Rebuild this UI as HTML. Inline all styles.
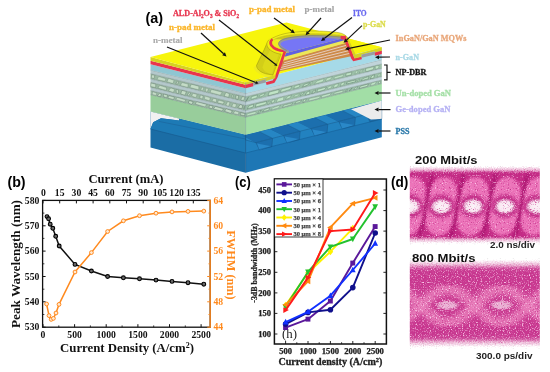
<!DOCTYPE html>
<html><head><meta charset="utf-8"><title>Figure</title>
<style>
html,body{margin:0;padding:0;background:#fff;}
body{width:550px;height:372px;overflow:hidden;}
svg{display:block;}
.serif{font-family:"Liberation Serif",serif;font-weight:bold;}
.sans{font-family:"Liberation Sans",sans-serif;font-weight:bold;}
</style></head><body>
<svg width="550" height="372" viewBox="0 0 550 372">
<rect width="550" height="372" fill="#fff"/>
<g id="fig-a">
<polygon points="150.5,111.4 245.6,134.8 245.6,172.7 150.5,147.6" fill="#1b6da5" />
<polygon points="150.5,111.4 179,118.4 179,120.6 161,118.2 153.2,122.2 150.5,128.8" fill="#f1f1f1" />
<polygon points="161,118.2 179,120.6 179,118.6 245.6,134.8 245.6,153 150.5,129 153.2,122.2" fill="#1d7ab5" />
<line x1="159" y1="121.4" x2="245.6" y2="139" stroke="#1a5e94" stroke-width="0.5" />
<line x1="150.5" y1="129" x2="245.6" y2="153" stroke="#15588c" stroke-width="0.6" />
<polygon points="245.6,134.8 381.8,100.5 381.8,137.2 245.6,172.7" fill="#1e77b5" />
<polygon points="245.6,134.8 381.8,100.5 381.8,119 245.6,153" fill="#2282c0" />
<polygon points="245.6,140 255.9,142.6 245.6,136.2 245.6,134.8" fill="#2686c4" stroke="#174f7c" stroke-width="0.4" stroke-linejoin="round"/>
<polygon points="255.9,142.6 272.6,138.3 258.9,131.5 242.1,135.7" fill="#1c6fae" />
<polygon points="255.9,142.6 272.6,138.3 271.9,146.6 259.5,150" fill="#1c6fae" stroke="#174f7c" stroke-width="0.4" stroke-linejoin="round"/>
<polygon points="257.1,143.6 271.3,146.2 259.5,150" fill="#2a88c8" />
<polygon points="272.6,138.3 283.5,135.5 269.8,128.7 258.9,131.5" fill="#2686c4" stroke="#174f7c" stroke-width="0.4" stroke-linejoin="round"/>
<polygon points="283.5,135.5 300.2,131.2 286.6,124.5 269.8,128.7" fill="#1c6fae" />
<polygon points="283.5,135.5 300.2,131.2 299.5,139.5 287.1,142.9" fill="#1c6fae" stroke="#174f7c" stroke-width="0.4" stroke-linejoin="round"/>
<polygon points="284.7,136.5 298.9,139.1 287.1,142.9" fill="#2a88c8" />
<polygon points="300.2,131.2 311.1,128.5 297.5,121.7 286.6,124.5" fill="#2686c4" stroke="#174f7c" stroke-width="0.4" stroke-linejoin="round"/>
<polygon points="311.1,128.5 327.8,124.2 314.4,117.5 297.5,121.7" fill="#1c6fae" />
<polygon points="311.1,128.5 327.8,124.2 327.1,132.5 314.7,135.9" fill="#1c6fae" stroke="#174f7c" stroke-width="0.4" stroke-linejoin="round"/>
<polygon points="312.3,129.5 326.5,132.1 314.7,135.9" fill="#2a88c8" />
<polygon points="327.8,124.2 338.7,121.5 325.3,114.7 314.4,117.5" fill="#2686c4" stroke="#174f7c" stroke-width="0.4" stroke-linejoin="round"/>
<polygon points="338.7,121.4 355.4,117.2 342.1,110.5 325.3,114.7" fill="#1c6fae" />
<polygon points="338.7,121.4 355.4,117.2 354.7,125.4 342.3,128.8" fill="#1c6fae" stroke="#174f7c" stroke-width="0.4" stroke-linejoin="round"/>
<polygon points="339.9,122.4 354.1,125 342.3,128.8" fill="#2a88c8" />
<polygon points="355.4,117.2 366.3,114.4 353,107.8 342.1,110.5" fill="#2686c4" stroke="#174f7c" stroke-width="0.4" stroke-linejoin="round"/>
<polygon points="366.3,114.4 383,110.1 369.8,103.5 353,107.8" fill="#1c6fae" />
<polygon points="366.3,114.4 381.8,110.4 381.8,118.7 369.9,121.8" fill="#1c6fae" stroke="#174f7c" stroke-width="0.4" stroke-linejoin="round"/>
<polygon points="351,109.2 381.8,100.5 381.8,119 371,119.6" fill="#ececec" />
<line x1="245.6" y1="153" x2="381.8" y2="119" stroke="#155a90" stroke-width="0.5" />
<polygon points="150.5,94.7 245.6,117.2 245.6,134.8 150.5,111.4" fill="#98cd9b" />
<polygon points="245.6,117.2 381.8,83.6 381.8,100.5 245.6,134.8" fill="#a2dea6" />
<polygon points="150.5,70 245.6,93.2 245.6,96.8 150.5,73.7" fill="#b4c8cb" />
<polygon points="245.6,93.2 381.8,59.6 381.8,64 245.6,96.8" fill="#c0d4d9" />
<polygon points="150.5,73.7 245.6,96.8 245.6,101.9 150.5,79" fill="#9ab8a2" />
<polygon points="245.6,96.8 381.8,64 381.8,68.4 245.6,101.9" fill="#9cc0a8" />
<polygon points="150.5,79 245.6,101.9 245.6,105.5 150.5,82.3" fill="#b4c8cb" />
<polygon points="245.6,101.9 381.8,68.4 381.8,72.3 245.6,105.5" fill="#c0d4d9" />
<polygon points="150.5,82.3 245.6,105.5 245.6,110.6 150.5,87.4" fill="#9ab8a2" />
<polygon points="245.6,105.5 381.8,72.3 381.8,76.7 245.6,110.6" fill="#9cc0a8" />
<polygon points="150.5,87.4 245.6,110.6 245.6,113.1 150.5,90.6" fill="#b4c8cb" />
<polygon points="245.6,110.6 381.8,76.7 381.8,80 245.6,113.1" fill="#c0d4d9" />
<polygon points="150.5,90.6 245.6,113.1 245.6,117.2 150.5,94.7" fill="#9ab8a2" />
<polygon points="245.6,113.1 381.8,80 381.8,83.6 245.6,117.2" fill="#9cc0a8" />
<line x1="150.5" y1="70" x2="245.6" y2="93.2" stroke="#5c7474" stroke-width="0.45" stroke-opacity="0.7"/>
<line x1="245.6" y1="93.2" x2="381.8" y2="59.6" stroke="#5c7474" stroke-width="0.45" stroke-opacity="0.7"/>
<line x1="150.5" y1="73.7" x2="245.6" y2="96.8" stroke="#5c7474" stroke-width="0.45" stroke-opacity="0.7"/>
<line x1="245.6" y1="96.8" x2="381.8" y2="64" stroke="#5c7474" stroke-width="0.45" stroke-opacity="0.7"/>
<line x1="150.5" y1="79" x2="245.6" y2="101.9" stroke="#5c7474" stroke-width="0.45" stroke-opacity="0.7"/>
<line x1="245.6" y1="101.9" x2="381.8" y2="68.4" stroke="#5c7474" stroke-width="0.45" stroke-opacity="0.7"/>
<line x1="150.5" y1="82.3" x2="245.6" y2="105.5" stroke="#5c7474" stroke-width="0.45" stroke-opacity="0.7"/>
<line x1="245.6" y1="105.5" x2="381.8" y2="72.3" stroke="#5c7474" stroke-width="0.45" stroke-opacity="0.7"/>
<line x1="150.5" y1="87.4" x2="245.6" y2="110.6" stroke="#5c7474" stroke-width="0.45" stroke-opacity="0.7"/>
<line x1="245.6" y1="110.6" x2="381.8" y2="76.7" stroke="#5c7474" stroke-width="0.45" stroke-opacity="0.7"/>
<line x1="150.5" y1="90.6" x2="245.6" y2="113.1" stroke="#5c7474" stroke-width="0.45" stroke-opacity="0.7"/>
<line x1="245.6" y1="113.1" x2="381.8" y2="80" stroke="#5c7474" stroke-width="0.45" stroke-opacity="0.7"/>
<line x1="150.5" y1="94.7" x2="245.6" y2="117.2" stroke="#5c7474" stroke-width="0.45" stroke-opacity="0.7"/>
<line x1="245.6" y1="117.2" x2="381.8" y2="83.6" stroke="#5c7474" stroke-width="0.45" stroke-opacity="0.7"/>
<polygon points="151.8,74.7 154.7,75.3 154,78.7 151.2,77.7" fill="#c4dcc6" stroke="#4f675f" stroke-width="0.5" stroke-opacity="0.68"/>
<polygon points="158.7,76.6 165.9,78.7 165,81.3 156.9,79.6" fill="#c4dcc6" stroke="#4f675f" stroke-width="0.5" stroke-opacity="0.52"/>
<polygon points="168.6,78.4 174.1,80.3 173,83.6 166.9,81.7" fill="#c4dcc6" stroke="#4f675f" stroke-width="0.5" stroke-opacity="0.52"/>
<polygon points="177.4,81.1 178.6,81.7 177.4,84.4 175.9,83.6" fill="#c4dcc6" stroke="#4f675f" stroke-width="0.5" stroke-opacity="0.72"/>
<polygon points="181.8,82.5 188.2,84.1 187.9,87.4 180.4,85.5" fill="#c4dcc6" stroke="#4f675f" stroke-width="0.5" stroke-opacity="0.57"/>
<polygon points="191.3,84.2 198.9,86.2 198.8,89.9 189.8,87.5" fill="#c4dcc6" stroke="#4f675f" stroke-width="0.5" stroke-opacity="0.61"/>
<polygon points="201.7,87 204,87.8 202.3,90.9 200.9,90.2" fill="#c4dcc6" stroke="#4f675f" stroke-width="0.5" stroke-opacity="0.51"/>
<polygon points="205.7,88.1 208.5,89.1 207,92.1 205.6,91.5" fill="#c4dcc6" stroke="#4f675f" stroke-width="0.5" stroke-opacity="0.47"/>
<polygon points="211.4,89.4 222.2,92.2 220.3,95.2 210.1,92.4" fill="#c4dcc6" stroke="#4f675f" stroke-width="0.5" stroke-opacity="0.49"/>
<polygon points="225.9,92.3 229.4,93.8 228.7,97.3 224.1,96.2" fill="#c4dcc6" stroke="#4f675f" stroke-width="0.5" stroke-opacity="0.64"/>
<polygon points="232.4,94.5 233.3,95.3 232.7,97.9 231.5,97.3" fill="#c4dcc6" stroke="#4f675f" stroke-width="0.5" stroke-opacity="0.57"/>
<polygon points="236.1,95.1 238.8,95.8 237.8,99.4 235.7,98.6" fill="#c4dcc6" stroke="#4f675f" stroke-width="0.5" stroke-opacity="0.77"/>
<polygon points="242.6,96.4 244.8,97.3 243.5,100.6 240.7,99.7" fill="#c4dcc6" stroke="#4f675f" stroke-width="0.5" stroke-opacity="0.59"/>
<polygon points="247.9,97.6 248.6,96.9 247,100.2 246.2,101.2" fill="#c0e4c6" stroke="#4f675f" stroke-width="0.5" stroke-opacity="0.76"/>
<polygon points="251.4,96.7 257.4,95 257,97.7 251,99.4" fill="#c0e4c6" stroke="#4f675f" stroke-width="0.5" stroke-opacity="0.69"/>
<polygon points="260.1,94.9 265.2,93.1 263.7,95.6 258.8,97.4" fill="#c0e4c6" stroke="#4f675f" stroke-width="0.5" stroke-opacity="0.62"/>
<polygon points="269.1,92.1 279.1,89.5 278.7,93 268,95.8" fill="#c0e4c6" stroke="#4f675f" stroke-width="0.5" stroke-opacity="0.78"/>
<polygon points="281.3,89.3 291.9,86.4 290.5,89.3 280.5,92.4" fill="#c0e4c6" stroke="#4f675f" stroke-width="0.5" stroke-opacity="0.67"/>
<polygon points="294.9,86.1 300,84.4 299.3,87 293.7,88.8" fill="#c0e4c6" stroke="#4f675f" stroke-width="0.5" stroke-opacity="0.58"/>
<polygon points="303.9,84.4 309.8,82.6 307.7,85.1 302.6,87.1" fill="#c0e4c6" stroke="#4f675f" stroke-width="0.5" stroke-opacity="0.79"/>
<polygon points="311.2,81.9 312.9,81.4 311.4,84.2 310.3,84.8" fill="#c0e4c6" stroke="#4f675f" stroke-width="0.5" stroke-opacity="0.50"/>
<polygon points="317.2,80.9 324,78.8 323.2,81.5 314.5,84.1" fill="#c0e4c6" stroke="#4f675f" stroke-width="0.5" stroke-opacity="0.46"/>
<polygon points="326.9,78.2 332.5,76.7 330.3,79.5 325.3,81.4" fill="#c0e4c6" stroke="#4f675f" stroke-width="0.5" stroke-opacity="0.52"/>
<polygon points="334.3,76.9 343.6,74.5 343.1,76.5 334.1,79" fill="#c0e4c6" stroke="#4f675f" stroke-width="0.5" stroke-opacity="0.48"/>
<polygon points="346.1,73.3 351.9,72 351.3,74.8 345.8,76.1" fill="#c0e4c6" stroke="#4f675f" stroke-width="0.5" stroke-opacity="0.73"/>
<polygon points="356,71.1 358,70.5 357.3,73.1 354.9,73.7" fill="#c0e4c6" stroke="#4f675f" stroke-width="0.5" stroke-opacity="0.46"/>
<polygon points="361.2,70.2 363.5,69.3 361.5,72 359.2,72.9" fill="#c0e4c6" stroke="#4f675f" stroke-width="0.5" stroke-opacity="0.53"/>
<polygon points="365.5,68.6 374.2,66.6 373.4,69.4 365.9,71.8" fill="#c0e4c6" stroke="#4f675f" stroke-width="0.5" stroke-opacity="0.72"/>
<polygon points="375.3,66.1 379.1,65.4 378.5,68.2 375.4,69.3" fill="#c0e4c6" stroke="#4f675f" stroke-width="0.5" stroke-opacity="0.52"/>
<polygon points="151,83 155.8,84.2 155.6,87.6 150.6,86.5" fill="#c4dcc6" stroke="#4f675f" stroke-width="0.5" stroke-opacity="0.66"/>
<polygon points="159.7,85.3 166.7,87.6 166.4,90.4 157.9,88.1" fill="#c4dcc6" stroke="#4f675f" stroke-width="0.5" stroke-opacity="0.62"/>
<polygon points="170.9,87.9 174.8,89.4 173.2,92.4 168.4,90.6" fill="#c4dcc6" stroke="#4f675f" stroke-width="0.5" stroke-opacity="0.50"/>
<polygon points="176.2,89.4 178.5,90.1 178.3,93.8 176.3,92.8" fill="#c4dcc6" stroke="#4f675f" stroke-width="0.5" stroke-opacity="0.66"/>
<polygon points="181.9,90.4 186.4,91.6 185,95.2 180.7,94" fill="#c4dcc6" stroke="#4f675f" stroke-width="0.5" stroke-opacity="0.70"/>
<polygon points="189.3,92.1 190.6,93 188.7,95.9 187.2,95.3" fill="#c4dcc6" stroke="#4f675f" stroke-width="0.5" stroke-opacity="0.73"/>
<polygon points="192.9,93.2 197.1,94.5 195.9,97.7 191.7,96" fill="#c4dcc6" stroke="#4f675f" stroke-width="0.5" stroke-opacity="0.53"/>
<polygon points="200.4,95 203.2,95.7 202.6,98.9 199.7,98.3" fill="#c4dcc6" stroke="#4f675f" stroke-width="0.5" stroke-opacity="0.61"/>
<polygon points="204.9,96.1 210.2,97.8 209.5,100.8 204.4,99.1" fill="#c4dcc6" stroke="#4f675f" stroke-width="0.5" stroke-opacity="0.45"/>
<polygon points="213.4,98.2 216.7,99.2 216.4,102.3 211.9,101.2" fill="#c4dcc6" stroke="#4f675f" stroke-width="0.5" stroke-opacity="0.55"/>
<polygon points="218.5,100.1 224.3,101.7 223.1,104.1 217.5,102.8" fill="#c4dcc6" stroke="#4f675f" stroke-width="0.5" stroke-opacity="0.61"/>
<polygon points="227.7,101.5 230,102.5 228.6,106.4 225.7,105.2" fill="#c4dcc6" stroke="#4f675f" stroke-width="0.5" stroke-opacity="0.57"/>
<polygon points="233.3,103.3 236.7,104.4 235.2,107.7 231.7,106.4" fill="#c4dcc6" stroke="#4f675f" stroke-width="0.5" stroke-opacity="0.52"/>
<polygon points="240.5,104.5 242.7,105.6 241.8,108.8 237.8,107.6" fill="#c4dcc6" stroke="#4f675f" stroke-width="0.5" stroke-opacity="0.84"/>
<polygon points="244.4,106.2 244.9,106.5 244,109.2 244,108.6" fill="#c4dcc6" stroke="#4f675f" stroke-width="0.5" stroke-opacity="0.62"/>
<polygon points="249,105.8 253.8,104.3 253.2,107 247.3,108.8" fill="#c0e4c6" stroke="#4f675f" stroke-width="0.5" stroke-opacity="0.78"/>
<polygon points="256.2,103.9 267,101.4 265.8,104.2 255.3,107.1" fill="#c0e4c6" stroke="#4f675f" stroke-width="0.5" stroke-opacity="0.73"/>
<polygon points="268.5,101.3 270.2,101.1 269.4,103.7 267.7,104.3" fill="#c0e4c6" stroke="#4f675f" stroke-width="0.5" stroke-opacity="0.66"/>
<polygon points="272,100.4 275.1,99.3 273.8,102.6 271.4,103.1" fill="#c0e4c6" stroke="#4f675f" stroke-width="0.5" stroke-opacity="0.59"/>
<polygon points="277.9,98.6 283.8,96.8 283.5,100.2 276.2,102.3" fill="#c0e4c6" stroke="#4f675f" stroke-width="0.5" stroke-opacity="0.49"/>
<polygon points="287.7,96.3 291.7,94.9 289.9,98 285.3,99.5" fill="#c0e4c6" stroke="#4f675f" stroke-width="0.5" stroke-opacity="0.61"/>
<polygon points="294.5,95.3 299.6,93.6 297.9,95.9 293.8,97.2" fill="#c0e4c6" stroke="#4f675f" stroke-width="0.5" stroke-opacity="0.52"/>
<polygon points="301.6,93.1 304.4,92.1 302.5,94.6 300.2,95.7" fill="#c0e4c6" stroke="#4f675f" stroke-width="0.5" stroke-opacity="0.67"/>
<polygon points="306.8,92.3 309.7,90.8 309.8,94.1 305.2,95.2" fill="#c0e4c6" stroke="#4f675f" stroke-width="0.5" stroke-opacity="0.81"/>
<polygon points="313.2,91 315.8,89.7 314.7,92.6 311.7,93.5" fill="#c0e4c6" stroke="#4f675f" stroke-width="0.5" stroke-opacity="0.78"/>
<polygon points="317.5,89.4 326.6,87 324.5,89.8 317.1,92.1" fill="#c0e4c6" stroke="#4f675f" stroke-width="0.5" stroke-opacity="0.69"/>
<polygon points="328.5,86.6 332.2,85.6 331.1,88 327,89.2" fill="#c0e4c6" stroke="#4f675f" stroke-width="0.5" stroke-opacity="0.49"/>
<polygon points="334.6,84.7 338.7,83.5 337.4,86.6 333.3,88" fill="#c0e4c6" stroke="#4f675f" stroke-width="0.5" stroke-opacity="0.50"/>
<polygon points="341.5,82.9 345,81.9 343.5,84.9 340.3,86.1" fill="#c0e4c6" stroke="#4f675f" stroke-width="0.5" stroke-opacity="0.55"/>
<polygon points="347.2,82 356.1,79.8 355.4,81.8 346.4,84" fill="#c0e4c6" stroke="#4f675f" stroke-width="0.5" stroke-opacity="0.84"/>
<polygon points="358.3,79.6 359.7,78.8 358.8,81.1 357.1,81.8" fill="#c0e4c6" stroke="#4f675f" stroke-width="0.5" stroke-opacity="0.53"/>
<polygon points="362.9,78.5 368.9,76.5 368.4,78.8 361.1,80.7" fill="#c0e4c6" stroke="#4f675f" stroke-width="0.5" stroke-opacity="0.77"/>
<polygon points="372,75.6 374.5,74.8 373.8,77.9 370.3,78.8" fill="#c0e4c6" stroke="#4f675f" stroke-width="0.5" stroke-opacity="0.80"/>
<polygon points="378.9,74.2 380.6,73.1 379.7,76 377.1,77" fill="#c0e4c6" stroke="#4f675f" stroke-width="0.5" stroke-opacity="0.47"/>
<polygon points="152.7,91.7 156.8,93.2 156.3,95.4 152.1,94.5" fill="#c4dcc6" stroke="#4f675f" stroke-width="0.5" stroke-opacity="0.53"/>
<polygon points="159.5,93.2 161.3,94.1 160.6,96.8 157.3,95.8" fill="#c4dcc6" stroke="#4f675f" stroke-width="0.5" stroke-opacity="0.79"/>
<polygon points="163.5,94 167.7,95.2 166.6,97.7 163.4,96.6" fill="#c4dcc6" stroke="#4f675f" stroke-width="0.5" stroke-opacity="0.72"/>
<polygon points="169.1,95.7 174.5,97.2 173.5,99.5 167.8,98.1" fill="#c4dcc6" stroke="#4f675f" stroke-width="0.5" stroke-opacity="0.65"/>
<polygon points="177.3,97.4 185.9,100 184.3,102.1 175.7,99.4" fill="#c4dcc6" stroke="#4f675f" stroke-width="0.5" stroke-opacity="0.50"/>
<polygon points="189.2,100.5 193.3,101.8 191.6,104.5 188.4,102.9" fill="#c4dcc6" stroke="#4f675f" stroke-width="0.5" stroke-opacity="0.84"/>
<polygon points="196.6,101.7 206.9,104.4 204.9,106.9 195.3,104.1" fill="#c4dcc6" stroke="#4f675f" stroke-width="0.5" stroke-opacity="0.65"/>
<polygon points="209.5,105.2 213,106.2 212,108.8 209,107.7" fill="#c4dcc6" stroke="#4f675f" stroke-width="0.5" stroke-opacity="0.76"/>
<polygon points="215.4,106.4 223.5,108.9 222,111.1 213.3,109" fill="#c4dcc6" stroke="#4f675f" stroke-width="0.5" stroke-opacity="0.68"/>
<polygon points="226.1,108.7 232.3,110.8 230.7,113.4 224.6,111.3" fill="#c4dcc6" stroke="#4f675f" stroke-width="0.5" stroke-opacity="0.75"/>
<polygon points="235.1,110.9 238.9,112.1 238.4,114.7 233.1,113.4" fill="#c4dcc6" stroke="#4f675f" stroke-width="0.5" stroke-opacity="0.54"/>
<polygon points="240.3,112.7 245,113.6 244.4,115.8 240.4,114.8" fill="#c4dcc6" stroke="#4f675f" stroke-width="0.5" stroke-opacity="0.77"/>
<polygon points="247.5,113.8 256,111.4 255.8,113.7 245.9,116.1" fill="#c0e4c6" stroke="#4f675f" stroke-width="0.5" stroke-opacity="0.47"/>
<polygon points="259.2,111 261.3,110.2 259.9,112.7 257.6,113.6" fill="#c0e4c6" stroke="#4f675f" stroke-width="0.5" stroke-opacity="0.85"/>
<polygon points="264.6,109.5 269.4,107.7 269,110.2 262.5,111.8" fill="#c0e4c6" stroke="#4f675f" stroke-width="0.5" stroke-opacity="0.75"/>
<polygon points="273,107.6 280.7,105.1 278.4,107.9 270.8,110" fill="#c0e4c6" stroke="#4f675f" stroke-width="0.5" stroke-opacity="0.52"/>
<polygon points="283.6,105.2 293,102.8 291.9,104.6 282.5,107.4" fill="#c0e4c6" stroke="#4f675f" stroke-width="0.5" stroke-opacity="0.64"/>
<polygon points="296.3,101.6 301.5,100 300.4,102.2 294.7,103.7" fill="#c0e4c6" stroke="#4f675f" stroke-width="0.5" stroke-opacity="0.70"/>
<polygon points="303.6,99.6 306.4,98.9 305.2,101.4 302.9,102.6" fill="#c0e4c6" stroke="#4f675f" stroke-width="0.5" stroke-opacity="0.72"/>
<polygon points="309.1,98.6 320.8,96.1 319.1,98.3 308.9,101" fill="#c0e4c6" stroke="#4f675f" stroke-width="0.5" stroke-opacity="0.49"/>
<polygon points="321.9,95.5 331.4,92.9 330,95.4 321.3,97.9" fill="#c0e4c6" stroke="#4f675f" stroke-width="0.5" stroke-opacity="0.57"/>
<polygon points="334.8,92.4 343,90.2 342.8,92.3 333.3,94.4" fill="#c0e4c6" stroke="#4f675f" stroke-width="0.5" stroke-opacity="0.53"/>
<polygon points="346.6,89.7 347.3,89.2 346.7,91.5 344.9,91.8" fill="#c0e4c6" stroke="#4f675f" stroke-width="0.5" stroke-opacity="0.73"/>
<polygon points="351.1,88.7 352.2,87.9 350.5,90.3 349.1,91" fill="#c0e4c6" stroke="#4f675f" stroke-width="0.5" stroke-opacity="0.71"/>
<polygon points="355,87.7 358.1,86.7 356.5,88.8 353.7,89.8" fill="#c0e4c6" stroke="#4f675f" stroke-width="0.5" stroke-opacity="0.58"/>
<polygon points="360.3,86.2 368.5,83.9 367.4,86.3 359,88.5" fill="#c0e4c6" stroke="#4f675f" stroke-width="0.5" stroke-opacity="0.75"/>
<polygon points="371.6,83.1 376.6,81.6 374.8,84.4 370.3,85.9" fill="#c0e4c6" stroke="#4f675f" stroke-width="0.5" stroke-opacity="0.49"/>
<polygon points="378.8,81.6 380.7,81 380.6,83.1 378.2,83.9" fill="#c0e4c6" stroke="#4f675f" stroke-width="0.5" stroke-opacity="0.65"/>
<polygon points="150.5,64.3 245.6,88.2 245.6,93.2 150.5,70" fill="#8fc6d2" />
<polygon points="245.6,82.4 381.8,47.2 381.8,59.6 245.6,93.2" fill="#a6dae8" />
<polygon points="150.5,60.8 245.6,84.8 245.6,88.2 150.5,64.3" fill="#e8354c" />
<polygon points="150.5,57 245.6,82.4 245.6,84.8 150.5,60.8" fill="#d6d222" />
<polygon points="150.5,57 286.5,22.4 381.8,47.2 245.6,82.4" fill="#f7f50c" />
<polygon points="283,60.5 345.6,42.7 352.4,56 276,72" fill="#cd8a48" />
<line x1="284.1" y1="62.8" x2="346" y2="45.4" stroke="#e6ccbc" stroke-width="1.0" />
<line x1="282.7" y1="65.1" x2="347.3" y2="48" stroke="#e6ccbc" stroke-width="1.0" />
<line x1="281.3" y1="67.4" x2="348.7" y2="50.7" stroke="#e6ccbc" stroke-width="1.0" />
<line x1="279.9" y1="69.7" x2="350" y2="53.3" stroke="#e6ccbc" stroke-width="1.0" />
<polygon points="284.6,56.6 344.4,40.1 345.8,42.9 283,60.7" fill="#ece65a" />
<polygon points="286,53.1 342.6,38.3 344.4,40.3 284.6,56.8" fill="#6060e2" />
<path d="M288.9,52.3 C284,50 279.6,46.6 279.6,43.8 C280,41.4 284,39.6 289.8,38.6 C296,37.4 304,36.8 312,36.6 C322,36.5 333,37.2 342.4,38.4 Z" fill="#7676f5" />
<path d="M266.2,45 C264,51 259.5,58.5 256.5,65.5 C256.8,70 262,73.2 268,74.2 L273.4,75.2 L281.2,53.8 C276,53.4 269.6,50.4 267.6,46.4 Z" fill="#d2ce18" />
<path d="M270.4,49.6 C267.4,55 264,62 262.4,67.4 C263.6,70.4 266,72.4 269.4,73.4 L272.0,73.8 L279.0,54.0 C275.6,53.4 272.6,51.8 270.4,49.6 Z" fill="#dcd91a" />
<path d="M256.5,65.5 C256.8,70 262,73.2 268,74.2 L276.4,75.4 L275.6,77.4 C268,78.6 255,74 253.6,67.2 Z" fill="#efeb1f" />
<path d="M266.2,45 C264,51 259.5,58.5 256.5,65.5 C256.8,70 262,73.2 268,74.2 L273.4,75.1" fill="none" stroke="#8f8b12" stroke-width="0.5"/>
<path d="M273.3,39.8 C277,37.6 283,35.9 290,35 C297,34.2 305,33.8 312,33.7 C322,33.6 333,34.2 339,35 C342,35.4 344.4,36.2 345.4,37 L342.4,38.4 C333,37.2 322,36.5 312,36.6 C304,36.8 296,37.4 289.8,38.6 C284,39.6 280,41.4 279.6,43.8 C279.6,46.6 284,50 288.9,52.3 L285.1,50.6 C280,49.4 274.6,46.8 273.3,45 C272,43 272.3,41.4 273.3,39.8 Z" fill="#cbc71d" />
<path d="M266.2,45 C266.8,42.5 269.5,39.5 272.8,37.9 C277,35.8 283,33.6 289.8,32.7 C296,31.9 304,31.2 312,31 C322,30.9 333,31.6 339,32.7 C343,33.4 346.5,35.5 348.5,38.5 L345.4,37 C344.4,36.2 342,35.4 339,35 C333,34.2 322,33.6 312,33.7 C305,33.8 297,34.2 290,35 C283,35.9 277,37.6 273.3,39.8 L271.4,39.3 C269.4,40.6 268.6,43 269.5,44.4 Z" fill="#f4f01f" />
<path d="M266.2,45 C266.8,42.5 269.5,39.5 272.8,37.9 C277,35.8 283,33.6 289.8,32.7 C296,31.9 304,31.2 312,31 C322,30.9 333,31.6 339,32.7 C343,33.4 346.5,35.5 348.5,38.5" fill="none" stroke="#8f8b12" stroke-width="0.45"/>
<path d="M273.3,39.8 C277,37.6 283,35.9 290,35 C297,34.2 305,33.8 312,33.7 C322,33.6 333,34.2 339,35 C342,35.4 344.4,36.2 345.4,37" fill="none" stroke="#a8a416" stroke-width="0.4"/>
<path d="M270.4,39.0 C268.2,40.8 267.6,43.6 268.8,46 C270.8,49.6 276.6,52.4 282.2,52.8 L274.0,75.6" fill="none" stroke="#f3ef10" stroke-width="2.8" stroke-linejoin="round"/>
<path d="M269.2,39.6 C266.8,41.6 266.2,44.4 267.6,47 C269.8,50.8 275.6,53.6 281.0,54.0 L272.8,75.2" fill="none" stroke="#8f8b12" stroke-width="0.45" stroke-linejoin="round"/>
<path d="M272.6,39.2 C270.6,40.8 270.2,43.2 271.4,45.2 C273.4,48.2 278.8,50.6 285.0,51.0 L284.2,53.4 L276.4,76.6 L273.6,81.6 L266.2,83.6" fill="none" stroke="#e8354c" stroke-width="2.7" stroke-linejoin="round"/>
<path d="M273.3,39.8 C272.3,41.4 272,43 273.3,45 C274.6,46.8 280,49.4 285.1,50.2 L287.6,50.6 L288.6,51.4 C284,49.4 279.6,46.6 279.4,43.8 C279.4,42 281,40.4 283.4,39.4 C280,39.2 276,39.2 273.3,39.8 Z" fill="#f0ec1f" />
<path d="M288.4,51.8 C283.6,49.6 279.4,46.6 279.3,43.9 C279.6,41.4 283.6,39.5 289.8,38.5 C296,37.3 304,36.6 312,36.4 C322,36.3 333,37 342.6,38.1" fill="none" stroke="#98989c" stroke-width="2.3"/>
<path d="M287.6,50.9 C283,48.8 278.6,46 278.5,43.5 C278.8,40.8 283.4,38.7 289.8,37.6 C296,36.4 304,35.7 312,35.5 C322,35.4 333,36.1 342.8,37.2" fill="none" stroke="#6e6e60" stroke-width="0.4"/>
<polygon points="286.9,50.3 289,50.8 288.8,53 286.6,53" fill="#9c9ca0" />
<polygon points="245.6,82.4 253.2,80.5 253.5,82.6 245.6,84.8" fill="#d6d222" />
<polygon points="245.6,84.8 253.3,82.8 253.3,86.2 245.6,88.2" fill="#e8354c" />
<polygon points="253.3,82.2 265.8,79 265.8,82.4 253.3,85.6" fill="#9c9ca0" />
<polygon points="253.2,80.5 266,77.4 266,79.2 253.3,82.4" fill="#d6d222" />
<polygon points="266,77.4 275.6,75.2 275.2,78.2 266,80.9" fill="#d6d222" />
<path d="M340.6,36.0 L345.8,35.8 L354.4,58.2 L361.6,56.6 L361.8,59.2 L353.2,61.2 L351.2,58.6 L344.2,39.4 L340.8,39.2 Z" fill="#e8354c" />
<path d="M345.8,36.2 L348.5,38.5 L355.6,54.6 L 381.8,47.2 L 381.8,50.7 L 374.8,52.6 L374.8,51.2 L361.6,54.4 L361.6,56.8 L354.6,58.4 Z" fill="#d6d222" />
<polygon points="361.6,54.6 374.8,51.4 374.8,54.6 361.6,57.8" fill="#9c9ca0" />
<polygon points="374.8,52.4 381.8,50.7 381.8,54.1 374.8,55.8" fill="#e8354c" />
<polygon points="348.5,38.5 381.8,47.2 355.8,53.8" fill="#f7f50c" />
<line x1="245.6" y1="82.4" x2="245.6" y2="134.8" stroke="#3a5a6a" stroke-width="0.35" stroke-opacity="0.8"/>
<line x1="245.6" y1="134.8" x2="245.6" y2="172.5" stroke="#124a78" stroke-width="0.5" />
</g>
<g id="labels-a">
<text x="145.4" y="22.6" font-size="14.4" fill="#000" class="sans" text-anchor="start" textLength="17.6" lengthAdjust="spacingAndGlyphs" >(a)</text>
<text x="173" y="15.6" font-size="8.6" fill="#e8344e" class="serif" text-anchor="start" textLength="66" lengthAdjust="spacingAndGlyphs" stroke="#e8344e" stroke-width="0.3">ALD-Al<tspan font-size="5.5" dy="2">2</tspan><tspan dy="-2">O</tspan><tspan font-size="5.5" dy="2">3</tspan><tspan dy="-2"> &amp; SiO</tspan><tspan font-size="5.5" dy="2">2</tspan></text>
<text x="169" y="30.4" font-size="8.6" fill="#fbb62a" class="serif" text-anchor="start" textLength="46" lengthAdjust="spacingAndGlyphs" stroke="#fbb62a" stroke-width="0.3">n-pad metal</text>
<text x="153" y="43" font-size="8.6" fill="#ababab" class="serif" text-anchor="start" textLength="29.6" lengthAdjust="spacingAndGlyphs" stroke="#ababab" stroke-width="0.15">n-metal</text>
<text x="249" y="12.4" font-size="8.6" fill="#fbb62a" class="serif" text-anchor="start" textLength="46" lengthAdjust="spacingAndGlyphs" stroke="#fbb62a" stroke-width="0.3">p-pad metal</text>
<text x="304.6" y="12.4" font-size="8.6" fill="#a6a6a6" class="serif" text-anchor="start" textLength="29.6" lengthAdjust="spacingAndGlyphs" stroke="#a6a6a6" stroke-width="0.15">p-metal</text>
<text x="353" y="15.6" font-size="8.6" fill="#6a6af0" class="serif" text-anchor="start" textLength="13.6" lengthAdjust="spacingAndGlyphs" stroke="#6a6af0" stroke-width="0.3">ITO</text>
<text x="363" y="27.4" font-size="8.6" fill="#dcdc4c" class="serif" text-anchor="start" textLength="22.8" lengthAdjust="spacingAndGlyphs" stroke="#dcdc4c" stroke-width="0.3">p-GaN</text>
<text x="395.6" y="40.8" font-size="8.6" fill="#e9a77a" class="serif" text-anchor="start" textLength="70.8" lengthAdjust="spacingAndGlyphs" stroke="#e9a77a" stroke-width="0.3">InGaN/GaN MQWs</text>
<text x="395.6" y="59.6" font-size="8.6" fill="#a9d9e6" class="serif" text-anchor="start" textLength="23.4" lengthAdjust="spacingAndGlyphs" stroke="#a9d9e6" stroke-width="0.3">n-GaN</text>
<text x="395.6" y="75.2" font-size="8.6" fill="#111" class="serif" text-anchor="start" textLength="30.8" lengthAdjust="spacingAndGlyphs" stroke="#111" stroke-width="0.3">NP-DBR</text>
<text x="395.6" y="95.6" font-size="8.6" fill="#a6e0a8" class="serif" text-anchor="start" textLength="55.4" lengthAdjust="spacingAndGlyphs" stroke="#a6e0a8" stroke-width="0.3">Un-doped GaN</text>
<text x="395.6" y="112" font-size="8.6" fill="#b6b2f4" class="serif" text-anchor="start" textLength="54.8" lengthAdjust="spacingAndGlyphs" stroke="#b6b2f4" stroke-width="0.3">Ge-doped GaN</text>
<text x="395.6" y="133.6" font-size="8.6" fill="#2676a8" class="serif" text-anchor="start" textLength="14" lengthAdjust="spacingAndGlyphs" stroke="#2676a8" stroke-width="0.3">PSS</text>
<line x1="219" y1="20" x2="275" y2="64" stroke="#111" stroke-width="1.2" />
<polygon points="277.4,65.9 274.1,65.2 276,62.9" fill="#111" />
<line x1="201" y1="33" x2="223.6" y2="53.8" stroke="#111" stroke-width="1.2" />
<polygon points="226.5,56.5 222.2,55.3 224.9,52.3" fill="#111" />
<line x1="167" y1="47" x2="255.7" y2="82.5" stroke="#111" stroke-width="1.2" />
<polygon points="258.5,83.6 255.2,83.9 256.3,81.1" fill="#111" />
<line x1="274" y1="18" x2="291.6" y2="30.8" stroke="#111" stroke-width="1.2" />
<polygon points="294.8,33.2 290.4,32.5 292.8,29.2" fill="#111" />
<line x1="321" y1="18" x2="308.3" y2="32.2" stroke="#111" stroke-width="1.2" />
<polygon points="305.6,35.2 306.8,30.9 309.8,33.6" fill="#111" />
<line x1="352" y1="17.6" x2="324.2" y2="38.6" stroke="#111" stroke-width="1.2" />
<polygon points="321,41 323,37 325.4,40.2" fill="#111" />
<line x1="362" y1="25.6" x2="346.5" y2="40.1" stroke="#111" stroke-width="1.2" />
<polygon points="343.6,42.8 345.2,38.6 347.9,41.5" fill="#111" />
<line x1="390" y1="40" x2="348.9" y2="48.4" stroke="#111" stroke-width="1.2" />
<polygon points="345,49.2 348.5,46.4 349.3,50.4" fill="#111" />
<line x1="390" y1="57" x2="379" y2="57.2" stroke="#111" stroke-width="1.2" />
<polygon points="375,57.3 379,55.2 379,59.2" fill="#111" />
<line x1="390.5" y1="93" x2="378.5" y2="93" stroke="#111" stroke-width="1.2" />
<polygon points="374.5,93 378.5,91 378.5,95" fill="#111" />
<line x1="390.5" y1="109.6" x2="378.5" y2="109.6" stroke="#111" stroke-width="1.2" />
<polygon points="374.5,109.6 378.5,107.6 378.5,111.6" fill="#111" />
<line x1="390.5" y1="131" x2="378.5" y2="131" stroke="#111" stroke-width="1.2" />
<polygon points="374.5,131 378.5,129 378.5,133" fill="#111" />
<path d="M384,65 L387,65 L387,72.4 L390.6,72.4 M387,72.4 L387,79.8 L384,79.8" fill="none" stroke="#111" stroke-width="1.2"/>
</g>
<g id="chart-b">
<rect x="42.6" y="200.4" width="167.6" height="126.8" fill="#fff" stroke="#111" stroke-width="1.3"/>
<line x1="210.2" y1="199.8" x2="210.2" y2="327.8" stroke="#ff8a1e" stroke-width="1.3" />
<text x="7.4" y="186.5" font-size="14.4" fill="#000" class="sans" text-anchor="start" textLength="18.2" lengthAdjust="spacingAndGlyphs" >(b)</text>
<text x="126" y="182.8" font-size="12" fill="#111" class="serif" text-anchor="middle" textLength="75" lengthAdjust="spacingAndGlyphs" >Current (mA)</text>
<text x="127" y="352.2" font-size="12" fill="#111" class="serif" text-anchor="middle" textLength="134" lengthAdjust="spacingAndGlyphs" >Current Density (A/cm<tspan font-size="7.5" dy="-4">2</tspan><tspan dy="4">)</tspan></text>
<text transform="translate(20.2,264) rotate(-90)" font-size="11.5" class="serif" text-anchor="middle" fill="#111" textLength="128" lengthAdjust="spacingAndGlyphs">Peak Wavelength (nm)</text>
<text transform="translate(226.6,265) rotate(90)" font-size="11.8" class="serif" text-anchor="middle" fill="#ff8a1e" textLength="69.4" lengthAdjust="spacingAndGlyphs">FWHM (nm)</text>
<line x1="43" y1="327.2" x2="43" y2="324.2" stroke="#111" stroke-width="1.0" />
<text x="43" y="337.8" font-size="9.7" fill="#111" class="serif" text-anchor="middle" >0</text>
<line x1="74.6" y1="327.2" x2="74.6" y2="324.2" stroke="#111" stroke-width="1.0" />
<text x="74.6" y="337.8" font-size="9.7" fill="#111" class="serif" text-anchor="middle" >500</text>
<line x1="106.2" y1="327.2" x2="106.2" y2="324.2" stroke="#111" stroke-width="1.0" />
<text x="106.2" y="337.8" font-size="9.7" fill="#111" class="serif" text-anchor="middle" >1000</text>
<line x1="137.9" y1="327.2" x2="137.9" y2="324.2" stroke="#111" stroke-width="1.0" />
<text x="137.9" y="337.8" font-size="9.7" fill="#111" class="serif" text-anchor="middle" >1500</text>
<line x1="169.5" y1="327.2" x2="169.5" y2="324.2" stroke="#111" stroke-width="1.0" />
<text x="169.5" y="337.8" font-size="9.7" fill="#111" class="serif" text-anchor="middle" >2000</text>
<line x1="201.1" y1="327.2" x2="201.1" y2="324.2" stroke="#111" stroke-width="1.0" />
<text x="201.1" y="337.8" font-size="9.7" fill="#111" class="serif" text-anchor="middle" >2500</text>
<line x1="58.8" y1="327.2" x2="58.8" y2="325.4" stroke="#111" stroke-width="0.8" />
<line x1="90.4" y1="327.2" x2="90.4" y2="325.4" stroke="#111" stroke-width="0.8" />
<line x1="122.1" y1="327.2" x2="122.1" y2="325.4" stroke="#111" stroke-width="0.8" />
<line x1="153.7" y1="327.2" x2="153.7" y2="325.4" stroke="#111" stroke-width="0.8" />
<line x1="185.3" y1="327.2" x2="185.3" y2="325.4" stroke="#111" stroke-width="0.8" />
<line x1="43" y1="200.4" x2="43" y2="203.4" stroke="#111" stroke-width="1.0" />
<text x="43.5" y="196.2" font-size="9.7" fill="#111" class="serif" text-anchor="middle" >0</text>
<line x1="59.7" y1="200.4" x2="59.7" y2="203.4" stroke="#111" stroke-width="1.0" />
<text x="59.7" y="196.2" font-size="9.7" fill="#111" class="serif" text-anchor="middle" >15</text>
<line x1="76.4" y1="200.4" x2="76.4" y2="203.4" stroke="#111" stroke-width="1.0" />
<text x="76.4" y="196.2" font-size="9.7" fill="#111" class="serif" text-anchor="middle" >30</text>
<line x1="93.1" y1="200.4" x2="93.1" y2="203.4" stroke="#111" stroke-width="1.0" />
<text x="93.1" y="196.2" font-size="9.7" fill="#111" class="serif" text-anchor="middle" >45</text>
<line x1="109.8" y1="200.4" x2="109.8" y2="203.4" stroke="#111" stroke-width="1.0" />
<text x="109.8" y="196.2" font-size="9.7" fill="#111" class="serif" text-anchor="middle" >60</text>
<line x1="126.5" y1="200.4" x2="126.5" y2="203.4" stroke="#111" stroke-width="1.0" />
<text x="126.5" y="196.2" font-size="9.7" fill="#111" class="serif" text-anchor="middle" >75</text>
<line x1="143.2" y1="200.4" x2="143.2" y2="203.4" stroke="#111" stroke-width="1.0" />
<text x="143.2" y="196.2" font-size="9.7" fill="#111" class="serif" text-anchor="middle" >90</text>
<line x1="159.9" y1="200.4" x2="159.9" y2="203.4" stroke="#111" stroke-width="1.0" />
<text x="159.9" y="196.2" font-size="9.7" fill="#111" class="serif" text-anchor="middle" >105</text>
<line x1="176.6" y1="200.4" x2="176.6" y2="203.4" stroke="#111" stroke-width="1.0" />
<text x="176.6" y="196.2" font-size="9.7" fill="#111" class="serif" text-anchor="middle" >120</text>
<line x1="193.3" y1="200.4" x2="193.3" y2="203.4" stroke="#111" stroke-width="1.0" />
<text x="193.3" y="196.2" font-size="9.7" fill="#111" class="serif" text-anchor="middle" >135</text>
<line x1="42.6" y1="327.2" x2="45.6" y2="327.2" stroke="#111" stroke-width="1.0" />
<text x="39.4" y="330.4" font-size="9.7" fill="#111" class="serif" text-anchor="end" >530</text>
<line x1="42.6" y1="301.8" x2="45.6" y2="301.8" stroke="#111" stroke-width="1.0" />
<text x="39.4" y="305" font-size="9.7" fill="#111" class="serif" text-anchor="end" >540</text>
<line x1="42.6" y1="276.5" x2="45.6" y2="276.5" stroke="#111" stroke-width="1.0" />
<text x="39.4" y="279.7" font-size="9.7" fill="#111" class="serif" text-anchor="end" >550</text>
<line x1="42.6" y1="251.1" x2="45.6" y2="251.1" stroke="#111" stroke-width="1.0" />
<text x="39.4" y="254.3" font-size="9.7" fill="#111" class="serif" text-anchor="end" >560</text>
<line x1="42.6" y1="225.8" x2="45.6" y2="225.8" stroke="#111" stroke-width="1.0" />
<text x="39.4" y="229" font-size="9.7" fill="#111" class="serif" text-anchor="end" >570</text>
<line x1="42.6" y1="200.4" x2="45.6" y2="200.4" stroke="#111" stroke-width="1.0" />
<text x="39.4" y="203.6" font-size="9.7" fill="#111" class="serif" text-anchor="end" >580</text>
<line x1="42.6" y1="314.5" x2="44.4" y2="314.5" stroke="#111" stroke-width="0.8" />
<line x1="42.6" y1="289.2" x2="44.4" y2="289.2" stroke="#111" stroke-width="0.8" />
<line x1="42.6" y1="263.8" x2="44.4" y2="263.8" stroke="#111" stroke-width="0.8" />
<line x1="42.6" y1="238.4" x2="44.4" y2="238.4" stroke="#111" stroke-width="0.8" />
<line x1="42.6" y1="213.1" x2="44.4" y2="213.1" stroke="#111" stroke-width="0.8" />
<line x1="210.2" y1="327.2" x2="207.2" y2="327.2" stroke="#ff8a1e" stroke-width="1.0" />
<text x="213.4" y="330.4" font-size="9.7" fill="#ff8a1e" class="serif" text-anchor="start" >44</text>
<line x1="210.2" y1="301.8" x2="207.2" y2="301.8" stroke="#ff8a1e" stroke-width="1.0" />
<text x="213.4" y="305" font-size="9.7" fill="#ff8a1e" class="serif" text-anchor="start" >48</text>
<line x1="210.2" y1="276.5" x2="207.2" y2="276.5" stroke="#ff8a1e" stroke-width="1.0" />
<text x="213.4" y="279.7" font-size="9.7" fill="#ff8a1e" class="serif" text-anchor="start" >52</text>
<line x1="210.2" y1="251.1" x2="207.2" y2="251.1" stroke="#ff8a1e" stroke-width="1.0" />
<text x="213.4" y="254.3" font-size="9.7" fill="#ff8a1e" class="serif" text-anchor="start" >56</text>
<line x1="210.2" y1="225.8" x2="207.2" y2="225.8" stroke="#ff8a1e" stroke-width="1.0" />
<text x="213.4" y="229" font-size="9.7" fill="#ff8a1e" class="serif" text-anchor="start" >60</text>
<line x1="210.2" y1="200.4" x2="207.2" y2="200.4" stroke="#ff8a1e" stroke-width="1.0" />
<text x="213.4" y="203.6" font-size="9.7" fill="#ff8a1e" class="serif" text-anchor="start" >64</text>
<line x1="210.2" y1="314.5" x2="208.4" y2="314.5" stroke="#ff8a1e" stroke-width="0.8" />
<line x1="210.2" y1="289.2" x2="208.4" y2="289.2" stroke="#ff8a1e" stroke-width="0.8" />
<line x1="210.2" y1="263.8" x2="208.4" y2="263.8" stroke="#ff8a1e" stroke-width="0.8" />
<line x1="210.2" y1="238.4" x2="208.4" y2="238.4" stroke="#ff8a1e" stroke-width="0.8" />
<line x1="210.2" y1="213.1" x2="208.4" y2="213.1" stroke="#ff8a1e" stroke-width="0.8" />
<polyline points="47,216.6 48.6,218.8 50.2,224.2 52.8,228.3 55.7,236.3 59.2,246 75,264.4 91.4,271 107.6,276.5 123.4,277.8 139.5,278.8 156,280.1 172,281.4 188,282.7 203.8,284.2" fill="none" stroke="#111" stroke-width="1.5"/>
<circle cx="47" cy="216.6" r="1.9" fill="#6a6a6a" stroke="#000" stroke-width="1.1"/>
<circle cx="48.6" cy="218.8" r="1.9" fill="#6a6a6a" stroke="#000" stroke-width="1.1"/>
<circle cx="50.2" cy="224.2" r="1.9" fill="#6a6a6a" stroke="#000" stroke-width="1.1"/>
<circle cx="52.8" cy="228.3" r="1.9" fill="#6a6a6a" stroke="#000" stroke-width="1.1"/>
<circle cx="55.7" cy="236.3" r="1.9" fill="#6a6a6a" stroke="#000" stroke-width="1.1"/>
<circle cx="59.2" cy="246" r="1.9" fill="#6a6a6a" stroke="#000" stroke-width="1.1"/>
<circle cx="75" cy="264.4" r="1.9" fill="#6a6a6a" stroke="#000" stroke-width="1.1"/>
<circle cx="91.4" cy="271" r="1.9" fill="#6a6a6a" stroke="#000" stroke-width="1.1"/>
<circle cx="107.6" cy="276.5" r="1.9" fill="#6a6a6a" stroke="#000" stroke-width="1.1"/>
<circle cx="123.4" cy="277.8" r="1.9" fill="#6a6a6a" stroke="#000" stroke-width="1.1"/>
<circle cx="139.5" cy="278.8" r="1.9" fill="#6a6a6a" stroke="#000" stroke-width="1.1"/>
<circle cx="156" cy="280.1" r="1.9" fill="#6a6a6a" stroke="#000" stroke-width="1.1"/>
<circle cx="172" cy="281.4" r="1.9" fill="#6a6a6a" stroke="#000" stroke-width="1.1"/>
<circle cx="188" cy="282.7" r="1.9" fill="#6a6a6a" stroke="#000" stroke-width="1.1"/>
<circle cx="203.8" cy="284.2" r="1.9" fill="#6a6a6a" stroke="#000" stroke-width="1.1"/>
<polyline points="46.6,304 49,315.6 51.2,319.4 53.4,318.4 56,313 59,304.4 75,272 91.4,252.6 107.6,231.5 123.4,220.8 139.5,215.7 156,213.2 172,211.9 188,211.4 203.8,211.1" fill="none" stroke="#ff8a1e" stroke-width="1.5"/>
<circle cx="46.6" cy="304" r="1.9" fill="#ffe9d2" stroke="#ff8a1e" stroke-width="1"/>
<circle cx="49" cy="315.6" r="1.9" fill="#ffe9d2" stroke="#ff8a1e" stroke-width="1"/>
<circle cx="51.2" cy="319.4" r="1.9" fill="#ffe9d2" stroke="#ff8a1e" stroke-width="1"/>
<circle cx="53.4" cy="318.4" r="1.9" fill="#ffe9d2" stroke="#ff8a1e" stroke-width="1"/>
<circle cx="56" cy="313" r="1.9" fill="#ffe9d2" stroke="#ff8a1e" stroke-width="1"/>
<circle cx="59" cy="304.4" r="1.9" fill="#ffe9d2" stroke="#ff8a1e" stroke-width="1"/>
<circle cx="75" cy="272" r="1.9" fill="#ffe9d2" stroke="#ff8a1e" stroke-width="1"/>
<circle cx="91.4" cy="252.6" r="1.9" fill="#ffe9d2" stroke="#ff8a1e" stroke-width="1"/>
<circle cx="107.6" cy="231.5" r="1.9" fill="#ffe9d2" stroke="#ff8a1e" stroke-width="1"/>
<circle cx="123.4" cy="220.8" r="1.9" fill="#ffe9d2" stroke="#ff8a1e" stroke-width="1"/>
<circle cx="139.5" cy="215.7" r="1.9" fill="#ffe9d2" stroke="#ff8a1e" stroke-width="1"/>
<circle cx="156" cy="213.2" r="1.9" fill="#ffe9d2" stroke="#ff8a1e" stroke-width="1"/>
<circle cx="172" cy="211.9" r="1.9" fill="#ffe9d2" stroke="#ff8a1e" stroke-width="1"/>
<circle cx="188" cy="211.4" r="1.9" fill="#ffe9d2" stroke="#ff8a1e" stroke-width="1"/>
<circle cx="203.8" cy="211.1" r="1.9" fill="#ffe9d2" stroke="#ff8a1e" stroke-width="1"/>
</g>
<g id="chart-c">
<rect x="274.4" y="179" width="112" height="165" fill="#fff" stroke="#111" stroke-width="1.5"/>
<text x="235" y="186.7" font-size="14.4" fill="#000" class="sans" text-anchor="start" textLength="15.8" lengthAdjust="spacingAndGlyphs" >(c)</text>
<line x1="274.4" y1="334" x2="277.4" y2="334" stroke="#111" stroke-width="0.9" />
<line x1="386.4" y1="334" x2="383.4" y2="334" stroke="#111" stroke-width="0.9" />
<text x="271" y="336.7" font-size="7.8" fill="#222" class="serif" text-anchor="end" textLength="12.8" lengthAdjust="spacingAndGlyphs" stroke="#222" stroke-width="0.25">100</text>
<line x1="274.4" y1="313.4" x2="277.4" y2="313.4" stroke="#111" stroke-width="0.9" />
<line x1="386.4" y1="313.4" x2="383.4" y2="313.4" stroke="#111" stroke-width="0.9" />
<text x="271" y="316.1" font-size="7.8" fill="#222" class="serif" text-anchor="end" textLength="12.8" lengthAdjust="spacingAndGlyphs" stroke="#222" stroke-width="0.25">150</text>
<line x1="274.4" y1="292.9" x2="277.4" y2="292.9" stroke="#111" stroke-width="0.9" />
<line x1="386.4" y1="292.9" x2="383.4" y2="292.9" stroke="#111" stroke-width="0.9" />
<text x="271" y="295.6" font-size="7.8" fill="#222" class="serif" text-anchor="end" textLength="12.8" lengthAdjust="spacingAndGlyphs" stroke="#222" stroke-width="0.25">200</text>
<line x1="274.4" y1="272.3" x2="277.4" y2="272.3" stroke="#111" stroke-width="0.9" />
<line x1="386.4" y1="272.3" x2="383.4" y2="272.3" stroke="#111" stroke-width="0.9" />
<text x="271" y="275" font-size="7.8" fill="#222" class="serif" text-anchor="end" textLength="12.8" lengthAdjust="spacingAndGlyphs" stroke="#222" stroke-width="0.25">250</text>
<line x1="274.4" y1="251.7" x2="277.4" y2="251.7" stroke="#111" stroke-width="0.9" />
<line x1="386.4" y1="251.7" x2="383.4" y2="251.7" stroke="#111" stroke-width="0.9" />
<text x="271" y="254.4" font-size="7.8" fill="#222" class="serif" text-anchor="end" textLength="12.8" lengthAdjust="spacingAndGlyphs" stroke="#222" stroke-width="0.25">300</text>
<line x1="274.4" y1="231.1" x2="277.4" y2="231.1" stroke="#111" stroke-width="0.9" />
<line x1="386.4" y1="231.1" x2="383.4" y2="231.1" stroke="#111" stroke-width="0.9" />
<text x="271" y="233.8" font-size="7.8" fill="#222" class="serif" text-anchor="end" textLength="12.8" lengthAdjust="spacingAndGlyphs" stroke="#222" stroke-width="0.25">350</text>
<line x1="274.4" y1="210.6" x2="277.4" y2="210.6" stroke="#111" stroke-width="0.9" />
<line x1="386.4" y1="210.6" x2="383.4" y2="210.6" stroke="#111" stroke-width="0.9" />
<text x="271" y="213.3" font-size="7.8" fill="#222" class="serif" text-anchor="end" textLength="12.8" lengthAdjust="spacingAndGlyphs" stroke="#222" stroke-width="0.25">400</text>
<line x1="274.4" y1="190" x2="277.4" y2="190" stroke="#111" stroke-width="0.9" />
<line x1="386.4" y1="190" x2="383.4" y2="190" stroke="#111" stroke-width="0.9" />
<text x="271" y="192.7" font-size="7.8" fill="#222" class="serif" text-anchor="end" textLength="12.8" lengthAdjust="spacingAndGlyphs" stroke="#222" stroke-width="0.25">450</text>
<line x1="285.6" y1="344" x2="285.6" y2="341" stroke="#111" stroke-width="0.9" />
<text x="285.6" y="354.4" font-size="7.8" fill="#222" class="serif" text-anchor="middle" textLength="12.8" lengthAdjust="spacingAndGlyphs" stroke="#222" stroke-width="0.25">500</text>
<line x1="308" y1="344" x2="308" y2="341" stroke="#111" stroke-width="0.9" />
<text x="308" y="354.4" font-size="7.8" fill="#222" class="serif" text-anchor="middle" textLength="17.2" lengthAdjust="spacingAndGlyphs" stroke="#222" stroke-width="0.25">1000</text>
<line x1="330.4" y1="344" x2="330.4" y2="341" stroke="#111" stroke-width="0.9" />
<text x="330.4" y="354.4" font-size="7.8" fill="#222" class="serif" text-anchor="middle" textLength="17.2" lengthAdjust="spacingAndGlyphs" stroke="#222" stroke-width="0.25">1500</text>
<line x1="352.8" y1="344" x2="352.8" y2="341" stroke="#111" stroke-width="0.9" />
<text x="352.8" y="354.4" font-size="7.8" fill="#222" class="serif" text-anchor="middle" textLength="17.2" lengthAdjust="spacingAndGlyphs" stroke="#222" stroke-width="0.25">2000</text>
<line x1="375.2" y1="344" x2="375.2" y2="341" stroke="#111" stroke-width="0.9" />
<text x="375.2" y="354.4" font-size="7.8" fill="#222" class="serif" text-anchor="middle" textLength="17.2" lengthAdjust="spacingAndGlyphs" stroke="#222" stroke-width="0.25">2500</text>
<text x="330.4" y="365" font-size="9.8" fill="#222" class="serif" text-anchor="middle" textLength="104" lengthAdjust="spacingAndGlyphs" stroke="#222" stroke-width="0.3">Current density (A/cm<tspan font-size="6.2" dy="-3.2">2</tspan><tspan dy="3.2">)</tspan></text>
<line x1="296.8" y1="344" x2="296.8" y2="342.2" stroke="#111" stroke-width="0.8" />
<line x1="319.2" y1="344" x2="319.2" y2="342.2" stroke="#111" stroke-width="0.8" />
<line x1="341.6" y1="344" x2="341.6" y2="342.2" stroke="#111" stroke-width="0.8" />
<line x1="364" y1="344" x2="364" y2="342.2" stroke="#111" stroke-width="0.8" />
<text transform="translate(256.6,263) rotate(-90)" font-size="8.6" class="serif" text-anchor="middle" fill="#222" stroke="#222" stroke-width="0.25" textLength="79.5" lengthAdjust="spacingAndGlyphs">-3dB bandwidth (MHz)</text>
<text x="282" y="338.4" font-size="12" font-family="Liberation Serif,serif" fill="#222" textLength="15" lengthAdjust="spacingAndGlyphs">(h)</text>
<polyline points="285.6,327.6 308,319.2 330.4,301.1 352.8,263 375.2,226.6" fill="none" stroke="#5a189a" stroke-width="1.9" stroke-linejoin="round"/>
<rect x="283.1" y="325.1" width="4.9" height="4.9" fill="#5a189a"/>
<rect x="305.5" y="316.7" width="4.9" height="4.9" fill="#5a189a"/>
<rect x="327.9" y="298.6" width="4.9" height="4.9" fill="#5a189a"/>
<rect x="350.3" y="260.6" width="4.9" height="4.9" fill="#5a189a"/>
<rect x="372.7" y="224.1" width="4.9" height="4.9" fill="#5a189a"/>
<polyline points="285.6,324.1 308,312.4 330.4,309.7 352.8,287.6 375.2,233" fill="none" stroke="#10108c" stroke-width="1.9" stroke-linejoin="round"/>
<circle cx="285.6" cy="324.1" r="2.8" fill="#10108c"/>
<circle cx="308" cy="312.4" r="2.8" fill="#10108c"/>
<circle cx="330.4" cy="309.7" r="2.8" fill="#10108c"/>
<circle cx="352.8" cy="287.6" r="2.8" fill="#10108c"/>
<circle cx="375.2" cy="233" r="2.8" fill="#10108c"/>
<polyline points="285.6,322.1 308,311.8 330.4,295.7 352.8,270 375.2,243.5" fill="none" stroke="#1030ff" stroke-width="1.9" stroke-linejoin="round"/>
<polygon points="285.6,318.7 288.5,324.4 282.7,324.4" fill="#1030ff" />
<polygon points="308,308.4 310.9,314.1 305.1,314.1" fill="#1030ff" />
<polygon points="330.4,292.4 333.3,298 327.5,298" fill="#1030ff" />
<polygon points="352.8,266.7 355.7,272.3 349.9,272.3" fill="#1030ff" />
<polygon points="375.2,240.1 378.1,245.8 372.3,245.8" fill="#1030ff" />
<polyline points="285.6,305.2 308,272.7 330.4,251.7 352.8,228.3" fill="none" stroke="#fff200" stroke-width="1.9" stroke-linejoin="round"/>
<polygon points="285.6,301.7 288.4,305.2 285.6,308.7 282.8,305.2" fill="#fff200" />
<polygon points="308,269.2 310.8,272.7 308,276.2 305.2,272.7" fill="#fff200" />
<polygon points="330.4,248.2 333.2,251.7 330.4,255.2 327.6,251.7" fill="#fff200" />
<polygon points="352.8,224.8 355.6,228.3 352.8,231.7 350,228.3" fill="#fff200" />
<polyline points="285.6,306.8 308,271.9 330.4,246.8 352.8,239 375.2,206.6" fill="none" stroke="#22c22e" stroke-width="1.9" stroke-linejoin="round"/>
<polygon points="285.6,310.2 288.5,304.5 282.7,304.5" fill="#22c22e" />
<polygon points="308,275.2 310.9,269.5 305.1,269.5" fill="#22c22e" />
<polygon points="330.4,250.1 333.3,244.5 327.5,244.5" fill="#22c22e" />
<polygon points="352.8,242.3 355.7,236.6 349.9,236.6" fill="#22c22e" />
<polygon points="375.2,210 378.1,204.3 372.3,204.3" fill="#22c22e" />
<polyline points="285.6,304.8 308,281.3 330.4,227.4 352.8,203.6 375.2,197.8" fill="none" stroke="#ff8a10" stroke-width="1.9" stroke-linejoin="round"/>
<polygon points="282.3,304.8 287.9,301.9 287.9,307.7" fill="#ff8a10" />
<polygon points="304.7,281.3 310.3,278.4 310.3,284.2" fill="#ff8a10" />
<polygon points="327.1,227.4 332.7,224.5 332.7,230.3" fill="#ff8a10" />
<polygon points="349.5,203.6 355.1,200.7 355.1,206.5" fill="#ff8a10" />
<polygon points="371.9,197.8 377.5,194.9 377.5,200.7" fill="#ff8a10" />
<polyline points="285.6,310.1 308,277.6 330.4,231.1 352.8,229.5 375.2,193" fill="none" stroke="#ff1a1a" stroke-width="1.9" stroke-linejoin="round"/>
<polygon points="288.9,310.1 283.3,307.2 283.3,313" fill="#ff1a1a" />
<polygon points="311.3,277.6 305.7,274.7 305.7,280.5" fill="#ff1a1a" />
<polygon points="333.7,231.1 328.1,228.2 328.1,234" fill="#ff1a1a" />
<polygon points="356.1,229.5 350.5,226.6 350.5,232.4" fill="#ff1a1a" />
<polygon points="378.5,193 372.9,190.1 372.9,195.9" fill="#ff1a1a" />
<rect x="274.4" y="179" width="48.6" height="58" fill="#fff" stroke="#111" stroke-width="0.8"/>
<line x1="276.4" y1="184.4" x2="292" y2="184.4" stroke="#5a189a" stroke-width="1.9" />
<rect x="281.9" y="182.1" width="4.6" height="4.6" fill="#5a189a"/>
<text x="293.4" y="186.7" font-size="6.6" fill="#444" class="serif" text-anchor="start" textLength="27.6" lengthAdjust="spacingAndGlyphs" stroke="#444" stroke-width="0.25">50 µm × 1</text>
<line x1="276.4" y1="192.7" x2="292" y2="192.7" stroke="#10108c" stroke-width="1.9" />
<circle cx="284.2" cy="192.7" r="2.6" fill="#10108c"/>
<text x="293.4" y="195" font-size="6.6" fill="#444" class="serif" text-anchor="start" textLength="27.6" lengthAdjust="spacingAndGlyphs" stroke="#444" stroke-width="0.25">50 µm × 4</text>
<line x1="276.4" y1="201" x2="292" y2="201" stroke="#1030ff" stroke-width="1.9" />
<polygon points="284.2,197.9 286.9,203.1 281.5,203.1" fill="#1030ff" />
<text x="293.4" y="203.3" font-size="6.6" fill="#444" class="serif" text-anchor="start" textLength="27.6" lengthAdjust="spacingAndGlyphs" stroke="#444" stroke-width="0.25">50 µm × 6</text>
<line x1="276.4" y1="209.2" x2="292" y2="209.2" stroke="#22c22e" stroke-width="1.9" />
<polygon points="284.2,212.3 286.9,207.1 281.5,207.1" fill="#22c22e" />
<text x="293.4" y="211.5" font-size="6.6" fill="#444" class="serif" text-anchor="start" textLength="27.6" lengthAdjust="spacingAndGlyphs" stroke="#444" stroke-width="0.25">30 µm × 1</text>
<line x1="276.4" y1="217.5" x2="292" y2="217.5" stroke="#fff200" stroke-width="1.9" />
<polygon points="284.2,214.3 286.8,217.5 284.2,220.8 281.6,217.5" fill="#fff200" />
<text x="293.4" y="219.8" font-size="6.6" fill="#444" class="serif" text-anchor="start" textLength="27.6" lengthAdjust="spacingAndGlyphs" stroke="#444" stroke-width="0.25">30 µm × 4</text>
<line x1="276.4" y1="225.8" x2="292" y2="225.8" stroke="#ff8a10" stroke-width="1.9" />
<polygon points="281.1,225.8 286.4,223.1 286.4,228.5" fill="#ff8a10" />
<text x="293.4" y="228.1" font-size="6.6" fill="#444" class="serif" text-anchor="start" textLength="27.6" lengthAdjust="spacingAndGlyphs" stroke="#444" stroke-width="0.25">30 µm × 6</text>
<line x1="276.4" y1="234.1" x2="292" y2="234.1" stroke="#ff1a1a" stroke-width="1.9" />
<polygon points="287.3,234.1 282,231.4 282,236.8" fill="#ff1a1a" />
<text x="293.4" y="236.4" font-size="6.6" fill="#444" class="serif" text-anchor="start" textLength="27.6" lengthAdjust="spacingAndGlyphs" stroke="#444" stroke-width="0.25">30 µm × 8</text>
</g>
<defs>
<filter id="grain" x="-5%" y="-10%" width="110%" height="120%" color-interpolation-filters="sRGB">
 <feTurbulence type="fractalNoise" baseFrequency="0.9" numOctaves="1" seed="3" result="n"/>
 <feDisplacementMap in="SourceGraphic" in2="n" scale="5" xChannelSelector="R" yChannelSelector="G" result="d"/>
 <feTurbulence type="fractalNoise" baseFrequency="0.85" numOctaves="1" seed="11" result="n2"/>
 <feColorMatrix in="n2" type="matrix" values="0 0 0 0 1  0 0 0 0 0.86  0 0 0 0 0.95  4 0 0 0 -2.4" result="w"/>
 <feComposite in="w" in2="d" operator="in" result="w2"/>
 <feColorMatrix in="n2" type="matrix" values="0 0 0 0 0.76  0 0 0 0 0.16  0 0 0 0 0.52  0 4 0 0 -2.3" result="m"/>
 <feComposite in="m" in2="d" operator="in" result="m2"/>
 <feMerge><feMergeNode in="d"/><feMergeNode in="w2"/><feMergeNode in="m2"/></feMerge>
</filter>
<filter id="grain2" x="-5%" y="-10%" width="110%" height="120%" color-interpolation-filters="sRGB">
 <feTurbulence type="fractalNoise" baseFrequency="0.9" numOctaves="1" seed="5" result="n"/>
 <feDisplacementMap in="SourceGraphic" in2="n" scale="6" xChannelSelector="R" yChannelSelector="G" result="d"/>
 <feTurbulence type="fractalNoise" baseFrequency="0.85" numOctaves="1" seed="17" result="n2"/>
 <feColorMatrix in="n2" type="matrix" values="0 0 0 0 0.98  0 0 0 0 0.8  0 0 0 0 0.92  4 0 0 0 -2.12" result="w"/>
 <feComposite in="w" in2="d" operator="in" result="w2"/>
 <feColorMatrix in="n2" type="matrix" values="0 0 0 0 0.76  0 0 0 0 0.16  0 0 0 0 0.52  0 4 0 0 -2.3" result="m"/>
 <feComposite in="m" in2="d" operator="in" result="m2"/>
 <feMerge><feMergeNode in="d"/><feMergeNode in="w2"/><feMergeNode in="m2"/></feMerge>
</filter>
<filter id="soft"><feGaussianBlur stdDeviation="0.9"/></filter>
<filter id="soft15"><feGaussianBlur stdDeviation="1.5"/></filter>
<filter id="soft2"><feGaussianBlur stdDeviation="2.2"/></filter>
<linearGradient id="band1" x1="0" y1="0" x2="0" y2="1">
 <stop offset="0" stop-color="#c83088" stop-opacity="0"/><stop offset="0.045" stop-color="#c83088" stop-opacity="0.35"/><stop offset="0.085" stop-color="#c42c86"/>
 <stop offset="0.5" stop-color="#c22a84"/>
 <stop offset="0.915" stop-color="#c42c86"/><stop offset="0.955" stop-color="#c83088" stop-opacity="0.35"/><stop offset="1" stop-color="#c83088" stop-opacity="0"/>
</linearGradient>
<linearGradient id="band2" x1="0" y1="0" x2="0" y2="1">
 <stop offset="0" stop-color="#c83088" stop-opacity="0"/><stop offset="0.05" stop-color="#c83088" stop-opacity="0.3"/><stop offset="0.1" stop-color="#c83890" stop-opacity="0.9"/><stop offset="0.14" stop-color="#c83890"/>
 <stop offset="0.5" stop-color="#ca3c92"/>
 <stop offset="0.86" stop-color="#c83890"/><stop offset="0.9" stop-color="#c83890" stop-opacity="0.9"/><stop offset="0.95" stop-color="#c83088" stop-opacity="0.3"/><stop offset="1" stop-color="#c83088" stop-opacity="0"/>
</linearGradient>
<radialGradient id="ring1">
 <stop offset="0" stop-color="#f48cc8" stop-opacity="0"/><stop offset="0.42" stop-color="#f48cc8" stop-opacity="0"/>
 <stop offset="0.62" stop-color="#f28ac6" stop-opacity="0.95"/><stop offset="0.82" stop-color="#f080c0" stop-opacity="0.95"/>
 <stop offset="1" stop-color="#e070b0" stop-opacity="0"/>
</radialGradient>
<radialGradient id="eye1">
 <stop offset="0" stop-color="#fff"/><stop offset="0.6" stop-color="#fff" stop-opacity="0.93"/><stop offset="1" stop-color="#fff" stop-opacity="0"/>
</radialGradient>
<clipPath id="clipd"><rect x="409.8" y="150" width="130" height="215"/></clipPath>
</defs>
<g id="eyes">
<line x1="410.5" y1="166" x2="410.5" y2="246" stroke="#d4d4d4" stroke-width="0.5" stroke-dasharray="1,1.5"/>
<line x1="410.5" y1="258" x2="410.5" y2="350" stroke="#d4d4d4" stroke-width="0.5" stroke-dasharray="1,1.5"/>
<line x1="423.4" y1="166" x2="423.4" y2="246" stroke="#d4d4d4" stroke-width="0.5" stroke-dasharray="1,1.5"/>
<line x1="423.4" y1="258" x2="423.4" y2="350" stroke="#d4d4d4" stroke-width="0.5" stroke-dasharray="1,1.5"/>
<line x1="436.2" y1="166" x2="436.2" y2="246" stroke="#d4d4d4" stroke-width="0.5" stroke-dasharray="1,1.5"/>
<line x1="436.2" y1="258" x2="436.2" y2="350" stroke="#d4d4d4" stroke-width="0.5" stroke-dasharray="1,1.5"/>
<line x1="449.1" y1="166" x2="449.1" y2="246" stroke="#d4d4d4" stroke-width="0.5" stroke-dasharray="1,1.5"/>
<line x1="449.1" y1="258" x2="449.1" y2="350" stroke="#d4d4d4" stroke-width="0.5" stroke-dasharray="1,1.5"/>
<line x1="461.9" y1="166" x2="461.9" y2="246" stroke="#d4d4d4" stroke-width="0.5" stroke-dasharray="1,1.5"/>
<line x1="461.9" y1="258" x2="461.9" y2="350" stroke="#d4d4d4" stroke-width="0.5" stroke-dasharray="1,1.5"/>
<line x1="474.8" y1="166" x2="474.8" y2="246" stroke="#d4d4d4" stroke-width="0.5" stroke-dasharray="1,1.5"/>
<line x1="474.8" y1="258" x2="474.8" y2="350" stroke="#d4d4d4" stroke-width="0.5" stroke-dasharray="1,1.5"/>
<line x1="487.6" y1="166" x2="487.6" y2="246" stroke="#d4d4d4" stroke-width="0.5" stroke-dasharray="1,1.5"/>
<line x1="487.6" y1="258" x2="487.6" y2="350" stroke="#d4d4d4" stroke-width="0.5" stroke-dasharray="1,1.5"/>
<line x1="500.4" y1="166" x2="500.4" y2="246" stroke="#d4d4d4" stroke-width="0.5" stroke-dasharray="1,1.5"/>
<line x1="500.4" y1="258" x2="500.4" y2="350" stroke="#d4d4d4" stroke-width="0.5" stroke-dasharray="1,1.5"/>
<line x1="513.3" y1="166" x2="513.3" y2="246" stroke="#d4d4d4" stroke-width="0.5" stroke-dasharray="1,1.5"/>
<line x1="513.3" y1="258" x2="513.3" y2="350" stroke="#d4d4d4" stroke-width="0.5" stroke-dasharray="1,1.5"/>
<line x1="526.1" y1="166" x2="526.1" y2="246" stroke="#d4d4d4" stroke-width="0.5" stroke-dasharray="1,1.5"/>
<line x1="526.1" y1="258" x2="526.1" y2="350" stroke="#d4d4d4" stroke-width="0.5" stroke-dasharray="1,1.5"/>
<line x1="539" y1="166" x2="539" y2="246" stroke="#d4d4d4" stroke-width="0.5" stroke-dasharray="1,1.5"/>
<line x1="539" y1="258" x2="539" y2="350" stroke="#d4d4d4" stroke-width="0.5" stroke-dasharray="1,1.5"/>
<g clip-path="url(#clipd)">
<g filter="url(#grain)">
<rect x="400" y="166.5" width="150" height="76.5" fill="url(#band1)"/>
<rect x="395.1" y="177.2" width="29.8" height="58.2" rx="14" ry="19" fill="#ec74ba" filter="url(#soft)" transform="translate(410,206) skewX(-6) translate(-410,-206)"/>
<rect x="426.5" y="177.2" width="29.8" height="58.2" rx="14" ry="19" fill="#ec74ba" filter="url(#soft)" transform="translate(441.4,206) skewX(-6) translate(-441.4,-206)"/>
<rect x="458.1" y="177.2" width="29.8" height="58.2" rx="14" ry="19" fill="#ec74ba" filter="url(#soft)" transform="translate(473,206) skewX(-6) translate(-473,-206)"/>
<rect x="490.1" y="177.2" width="29.8" height="58.2" rx="14" ry="19" fill="#ec74ba" filter="url(#soft)" transform="translate(505,206) skewX(-6) translate(-505,-206)"/>
<rect x="521.7" y="177.2" width="29.8" height="58.2" rx="14" ry="19" fill="#ec74ba" filter="url(#soft)" transform="translate(536.6,206) skewX(-6) translate(-536.6,-206)"/>
<ellipse cx="410" cy="206.2" rx="13.4" ry="11.6" fill="#c5308a" filter="url(#soft15)"/>
<ellipse cx="441.4" cy="206.2" rx="13.4" ry="11.6" fill="#c5308a" filter="url(#soft15)"/>
<ellipse cx="473" cy="206.2" rx="13.4" ry="11.6" fill="#c5308a" filter="url(#soft15)"/>
<ellipse cx="505" cy="206.2" rx="13.4" ry="11.6" fill="#c5308a" filter="url(#soft15)"/>
<ellipse cx="536.6" cy="206.2" rx="13.4" ry="11.6" fill="#c5308a" filter="url(#soft15)"/>
<path d="M418.8,238 C424.3,224 427.3,190 432.8,174" fill="none" stroke="#a8146e" stroke-width="3" stroke-opacity="0.9" filter="url(#soft)"/>
<path d="M450.2,238 C455.7,224 458.7,190 464.2,174" fill="none" stroke="#a8146e" stroke-width="3" stroke-opacity="0.9" filter="url(#soft)"/>
<path d="M481.8,238 C487.3,224 490.3,190 495.8,174" fill="none" stroke="#a8146e" stroke-width="3" stroke-opacity="0.9" filter="url(#soft)"/>
<path d="M513.8,238 C519.3,224 522.3,190 527.8,174" fill="none" stroke="#a8146e" stroke-width="3" stroke-opacity="0.9" filter="url(#soft)"/>
<path d="M545.4,238 C550.9,224 553.9,190 559.4,174" fill="none" stroke="#a8146e" stroke-width="3" stroke-opacity="0.9" filter="url(#soft)"/>
<ellipse cx="410" cy="206.4" rx="11.4" ry="8.4" fill="url(#eye1)" opacity="0.95"/>
<ellipse cx="441.4" cy="206.4" rx="11.4" ry="8.4" fill="url(#eye1)" opacity="0.95"/>
<ellipse cx="473" cy="206.4" rx="11.4" ry="8.4" fill="url(#eye1)" opacity="0.95"/>
<ellipse cx="505" cy="206.4" rx="11.4" ry="8.4" fill="url(#eye1)" opacity="0.95"/>
<ellipse cx="536.6" cy="206.4" rx="11.4" ry="8.4" fill="url(#eye1)" opacity="0.95"/>
</g>
<g filter="url(#grain2)">
<rect x="400" y="260" width="150" height="87" fill="url(#band2)"/>
<path d="M395,288.9 L398,289.4 L401,290.4 L404,291.9 L407,293.8 L410,296.1 L413,298.6 L416,301.4 L419,304.3 L422,307.3 L425,310.2 L428,313 L431,315.5 L434,317.8 L437,319.7 L440,321.2 L443,322.2 L446,322.7 L449,322.7 L452,322.3 L455,321.3 L458,319.8 L461,317.9 L464,315.7 L467,313.1 L470,310.4 L473,307.5 L476,304.5 L479,301.6 L482,298.8 L485,296.2 L488,294 L491,292 L494,290.5 L497,289.5 L500,288.9 L503,288.8 L506,289.3 L509,290.3 L512,291.7 L515,293.5 L518,295.8 L521,298.3 L524,301 L527,303.9 L530,306.9 L533,309.8 L536,312.6 L539,315.2 L542,317.5 L545,319.5 L548,321 L551,322.1" fill="none" stroke="#ea80bc" stroke-width="10.5" stroke-opacity="0.8" filter="url(#soft2)"/>
<path d="M395,322.7 L398,322.2 L401,321.2 L404,319.7 L407,317.8 L410,315.5 L413,313 L416,310.2 L419,307.3 L422,304.3 L425,301.4 L428,298.6 L431,296.1 L434,293.8 L437,291.9 L440,290.4 L443,289.4 L446,288.9 L449,288.9 L452,289.3 L455,290.3 L458,291.8 L461,293.7 L464,295.9 L467,298.5 L470,301.2 L473,304.1 L476,307.1 L479,310 L482,312.8 L485,315.4 L488,317.6 L491,319.6 L494,321.1 L497,322.1 L500,322.7 L503,322.8 L506,322.3 L509,321.3 L512,319.9 L515,318.1 L518,315.8 L521,313.3 L524,310.6 L527,307.7 L530,304.7 L533,301.8 L536,299 L539,296.4 L542,294.1 L545,292.1 L548,290.6 L551,289.5" fill="none" stroke="#ea80bc" stroke-width="10.5" stroke-opacity="0.8" filter="url(#soft2)"/>
<ellipse cx="447.6" cy="305.2" rx="12.5" ry="5.4" fill="url(#eye1)" opacity="0.62"/>
<ellipse cx="501.8" cy="305.2" rx="12.5" ry="5.4" fill="url(#eye1)" opacity="0.62"/>
</g>
</g>
<text x="391" y="186.7" font-size="14.4" fill="#000" class="sans" text-anchor="start" textLength="17.4" lengthAdjust="spacingAndGlyphs" >(d)</text>
<text x="415" y="163.8" font-size="11" fill="#111" class="sans" text-anchor="start" textLength="62.5" lengthAdjust="spacingAndGlyphs" >200 Mbit/s</text>
<text x="412" y="262" font-size="11" fill="#111" class="sans" text-anchor="start" textLength="63.5" lengthAdjust="spacingAndGlyphs" >800 Mbit/s</text>
<text x="490" y="248" font-size="8.2" fill="#222" class="sans" text-anchor="start" textLength="45" lengthAdjust="spacingAndGlyphs" >2.0 ns/div</text>
<text x="476" y="358.8" font-size="8.2" fill="#222" class="sans" text-anchor="start" textLength="56.5" lengthAdjust="spacingAndGlyphs" >300.0 ps/div</text>
</g>
</svg>
</body></html>
